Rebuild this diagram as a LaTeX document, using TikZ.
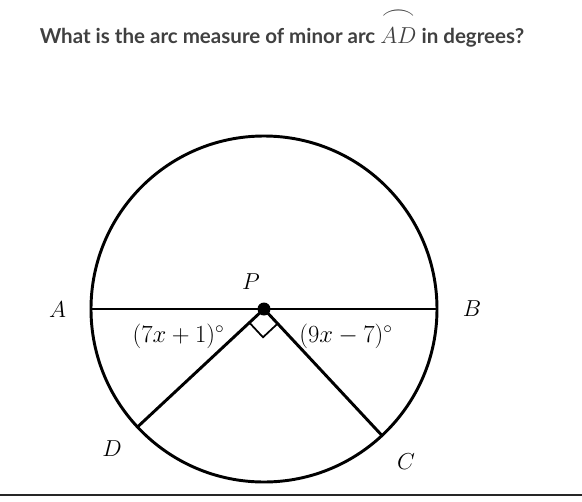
\RequirePackage{fix-cm}
\documentclass[tikz,border=0pt]{standalone}
\usepackage{amsmath}
\usepackage{fontspec}
\newfontfamily\titlefont{Lato}
\usetikzlibrary{positioning,calc}
\newcommand{\arcover}[1]{\overset{\raisebox{2.5pt}{\scalebox{1.5}[1.1]{$\frown$}}}{#1}}
\tikzset{
    seg/.style = {
        draw,
        line width=2.2pt
    },
    rim/.style = {
        draw,
        line width=2.2pt
    },
    pointlabel/.style = {
        font=\fontsize{17.3}{20}\selectfont
    },
    anglelabel/.style = {
        font=\fontsize{18.5}{21}\selectfont
    },
    question/.style = {
        font=\titlefont\bfseries\fontsize{15.4}{18}\selectfont,
        text=black!75
    },
}

\begin{document}
\begin{tikzpicture}[x=0.75pt,y=0.75pt]
        \useasboundingbox (-264,-192) rectangle (318,309);
        \coordinate (P) at (0,0);
        \coordinate (A) at (180:173);
        \coordinate (B) at (0:173);
        \coordinate (D) at (223:173);
        \coordinate (C) at (313:173);
        \coordinate (sq1) at (223:20);
        \coordinate (sq2) at ($(223:20)+(313:20)$);
        \coordinate (sq3) at (313:20);
        \coordinate (rulel) at (-264,-186);
        \coordinate (ruler) at (318,-186);

        \node[question, anchor=base] (title) at (18,266) {What is the arc measure of minor arc {\fontsize{17.3}{20}\selectfont$\arcover{AD}$} in degrees?};
        \node[pointlabel] (labA) at (-206.5,-1) {$A$};
        \node[pointlabel] (labB) at (208,0) {$B$};
        \node[pointlabel] (labP) at (-13,27) {$P$};
        \node[pointlabel] (labD) at (-152,-140) {$D$};
        \node[pointlabel] (labC) at (142,-152.5) {$C$};
        \node[anglelabel] (angAPD) at (-85.5,-27.5) {$(7x+1)^\circ$};
        \node[anglelabel] (angCPB) at (82,-27.5) {$(9x-7)^\circ$};

        \path[rim] (P) circle (173);
        \path[seg] (A) -- (B);
        \path[seg] (P) -- (D);
        \path[seg] (P) -- (C);
        \path[draw, line width=1.3pt] (sq1) -- (sq2) -- (sq3);
        \path[fill] (P) circle (6.5);
        \path[draw, line width=0.9pt, black!85] (rulel) -- (ruler);
    \end{tikzpicture}
\end{document}
